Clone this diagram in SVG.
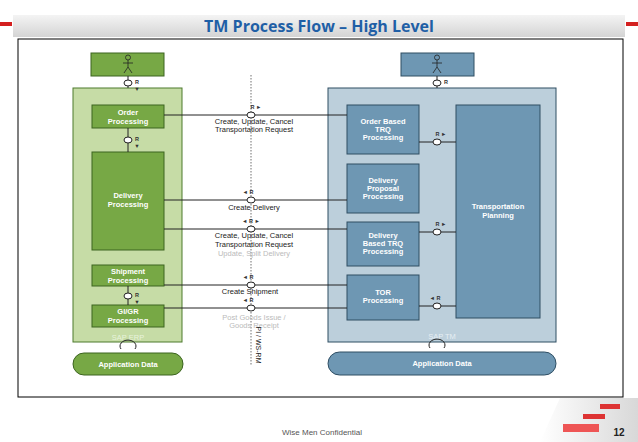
<svg xmlns="http://www.w3.org/2000/svg" width="638" height="442" viewBox="0 0 638 442">
<defs>
<linearGradient id="hdr" x1="0" y1="0" x2="0" y2="1"><stop offset="0" stop-color="#f4f4f4"/><stop offset="1" stop-color="#d4d4d4"/></linearGradient>
<linearGradient id="ftr" x1="0" y1="0" x2="1" y2="0"><stop offset="0" stop-color="#fff"/><stop offset="1" stop-color="#d8d8d8"/></linearGradient>
</defs>
<style>
text{font-family:"Liberation Sans",Arial,sans-serif;font-weight:bold;text-anchor:middle}
.gc{fill:#c6dca6;stroke:#4d7a2c;stroke-width:1}
.gb{fill:#77a845;stroke:#3c6420;stroke-width:1}
.bc{fill:#bccfdb;stroke:#2f4e63;stroke-width:1}
.bb{fill:#6e97b3;stroke:#2f4e63;stroke-width:1}
.wt{fill:#fff;font-size:7.5px}
.lt{fill:#222;font-size:7.5px;font-weight:normal}
.gt{fill:#bbb;font-size:7.5px;font-weight:normal}
.r{fill:#333;font-size:5.5px}
.ln{stroke:#222;stroke-width:1;fill:none}
.ci{fill:#fff;stroke:#222;stroke-width:1}
.act{stroke:#222;stroke-width:0.8;fill:none}
</style>
<rect width="638" height="442" fill="#fff"/>
<rect x="0" y="22" width="12" height="4" fill="#d42020"/>
<rect x="626" y="22" width="12" height="4" fill="#d42020"/>
<rect x="13" y="15" width="612" height="22" fill="url(#hdr)"/>
<text x="319" y="32" style="fill:#1f5fa6;font-family:'Open Sans','Liberation Sans',sans-serif;font-size:16px">TM Process Flow – High Level</text>
<rect x="18" y="39" width="605" height="358" fill="none" stroke="#000" stroke-width="1"/>
<polygon points="540,442 638,442 638,398 560,398" fill="url(#ftr)"/>
<rect x="563" y="424" width="36" height="8" fill="#e55"/>
<rect x="583" y="414" width="22" height="5" fill="#d33"/>
<rect x="600" y="404" width="20" height="5" fill="#d33"/>
<text x="322" y="435" style="fill:#555;font-size:8px;font-weight:normal">Wise Men Confidential</text>
<text x="619" y="436" style="fill:#222;font-size:10px">12</text>

<g id="erp"><rect class="gc" x="73" y="88" width="109" height="254"/><text x="128" y="340" style="fill:#e8f3dc;font-size:7.5px;font-weight:normal">SAP ERP</text></g>
<g id="erp-actor"><rect class="gb" x="91" y="53" width="73" height="23"/>
<g class="act"><circle cx="128" cy="57.5" r="2.5"/><line x1="128" y1="60" x2="128" y2="67"/><line x1="123" y1="63" x2="133" y2="63"/><line x1="128" y1="67" x2="124" y2="73"/><line x1="128" y1="67" x2="132" y2="73"/></g></g>
<g id="order"><rect class="gb" x="92" y="105" width="72" height="23"/><text class="wt" x="128" y="115">Order</text><text class="wt" x="128" y="124">Processing</text></g>
<g id="delivery"><rect class="gb" x="92" y="152" width="72" height="98"/><text class="wt" x="128" y="198">Delivery</text><text class="wt" x="128" y="207">Processing</text></g>
<g id="shipment"><rect class="gb" x="92" y="265" width="72" height="21"/><text class="wt" x="128" y="274">Shipment</text><text class="wt" x="128" y="283">Processing</text></g>
<g id="gfgr"><rect class="gb" x="92" y="305" width="72" height="22"/><text class="wt" x="128" y="314">GI/GR</text><text class="wt" x="128" y="323">Processing</text></g>
<g id="erp-data"><rect class="gb" x="73" y="353" width="110" height="22" rx="11" ry="11"/><text class="wt" x="128" y="367">Application Data</text></g>

<g id="tm"><rect class="bc" x="328" y="88" width="228" height="254"/><text x="442" y="339" style="fill:#e6eef3;font-size:7.5px;font-weight:normal">SAP TM</text></g>
<g id="tm-actor"><rect class="bb" x="401" y="53" width="73" height="23"/>
<g class="act"><circle cx="437" cy="57.5" r="2.5"/><line x1="437" y1="60" x2="437" y2="67"/><line x1="432" y1="63" x2="442" y2="63"/><line x1="437" y1="67" x2="433" y2="73"/><line x1="437" y1="67" x2="441" y2="73"/></g></g>
<g id="otrq"><rect class="bb" x="347" y="105" width="72" height="49"/><text class="wt" x="383" y="124">Order Based</text><text class="wt" x="383" y="132">TRQ</text><text class="wt" x="383" y="140">Processing</text></g>
<g id="dpp"><rect class="bb" x="347" y="164" width="72" height="49"/><text class="wt" x="383" y="183">Delivery</text><text class="wt" x="383" y="191">Proposal</text><text class="wt" x="383" y="199">Processing</text></g>
<g id="dtrq"><rect class="bb" x="347" y="222" width="72" height="44"/><text class="wt" x="383" y="238">Delivery</text><text class="wt" x="383" y="246">Based TRQ</text><text class="wt" x="383" y="254">Processing</text></g>
<g id="tor"><rect class="bb" x="347" y="275" width="72" height="45"/><text class="wt" x="383" y="295">TOR</text><text class="wt" x="383" y="303">Processing</text></g>
<g id="tp"><rect class="bb" x="456" y="105" width="84" height="213"/><text class="wt" x="498" y="209">Transportation</text><text class="wt" x="498" y="218">Planning</text></g>
<g id="tm-data"><rect class="bb" x="328" y="352" width="228" height="23" rx="11.5" ry="11.5"/><text class="wt" x="442" y="366">Application Data</text></g>

<g id="connectors">
<line x1="251" y1="75" x2="251" y2="366" stroke="#888" stroke-width="1.2" stroke-dasharray="1.5,1.5"/>
<line class="ln" x1="128" y1="76" x2="128" y2="88"/>
<line class="ln" x1="437" y1="76" x2="437" y2="88"/>
<line class="ln" x1="128" y1="128" x2="128" y2="152"/>
<line class="ln" x1="128" y1="286" x2="128" y2="305"/>
<line class="ln" x1="164" y1="115" x2="347" y2="115"/>
<line class="ln" x1="164" y1="200" x2="347" y2="200"/>
<line class="ln" x1="164" y1="229" x2="347" y2="229"/>
<line class="ln" x1="164" y1="285" x2="347" y2="285"/>
<line class="ln" x1="164" y1="308" x2="347" y2="308"/>
<line class="ln" x1="419" y1="142" x2="456" y2="142"/>
<line class="ln" x1="419" y1="232" x2="456" y2="232"/>
<line class="ln" x1="419" y1="306" x2="456" y2="306"/>
<ellipse class="ci" cx="128" cy="83" rx="4" ry="3"/><text class="r" x="137" y="84">R</text><text class="r" x="137" y="91">▼</text>
<ellipse class="ci" cx="437" cy="83" rx="4" ry="3"/><text class="r" x="446" y="84">R</text>
<ellipse class="ci" cx="128" cy="140" rx="4" ry="3"/><text class="r" x="137" y="141">R</text><text class="r" x="137" y="148">▼</text>
<ellipse class="ci" cx="128" cy="296" rx="4" ry="3"/><text class="r" x="137" y="297">R</text><text class="r" x="137" y="304">▼</text>
<ellipse class="ci" cx="251" cy="115" rx="4" ry="3"/><text class="r" x="256" y="109">R ►</text>
<ellipse class="ci" cx="251" cy="200" rx="4" ry="3"/><text class="r" x="248" y="194">◄ R</text>
<ellipse class="ci" cx="251" cy="229" rx="4" ry="3"/><text class="r" x="251" y="223">◄ R ►</text>
<ellipse class="ci" cx="251" cy="285" rx="4" ry="3"/><text class="r" x="248" y="279">◄ R</text>
<ellipse class="ci" cx="251" cy="308" rx="4" ry="3"/><text class="r" x="248" y="302">◄ R</text>
<ellipse class="ci" cx="437" cy="142" rx="4" ry="3"/><text class="r" x="441" y="136">R ►</text>
<ellipse class="ci" cx="437" cy="232" rx="4" ry="3"/><text class="r" x="441" y="226">R ►</text>
<ellipse class="ci" cx="437" cy="306" rx="4" ry="3"/><text class="r" x="435" y="300">◄ R</text>
<text class="lt" x="254" y="124">Create, Update, Cancel</text>
<text class="lt" x="254" y="132">Transportation Request</text>
<text class="lt" x="254" y="210">Create Delivery</text>
<text class="lt" x="254" y="238">Create, Update, Cancel</text>
<text class="lt" x="254" y="246.5">Transportation Request</text>
<text class="gt" x="254" y="255.5">Update, Split Delivery</text>
<text class="lt" x="250" y="294">Create Shipment</text>
<text class="gt" x="254" y="320">Post Goods Issue /</text>
<text class="gt" x="254" y="328">Goods Receipt</text>
<text class="lt" x="0" y="0" transform="translate(256,345) rotate(90)" style="font-size:7px">PI / WS-RM</text>
<path class="ln" d="M121,349 a8,6 0 1 1 14,0"/>
<path class="ln" d="M430,348 a8,6 0 1 1 14,0"/>
</g>
</svg>
